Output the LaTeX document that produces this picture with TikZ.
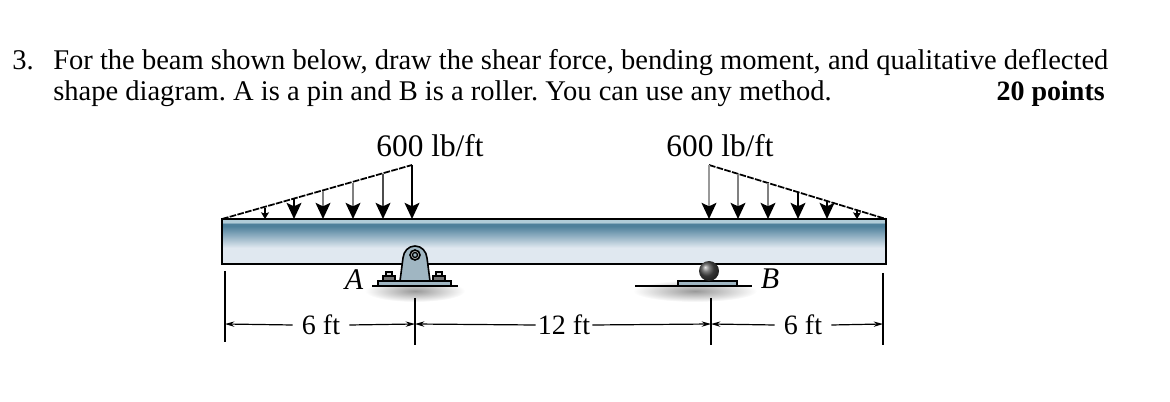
\documentclass[tikz,border=0pt]{standalone}
\usepackage{fontspec}
\setmainfont{Liberation Serif}
\usetikzlibrary{calc,arrows.meta}
\definecolor{beamlight}{RGB}{224,232,240}
\definecolor{beamdark}{RGB}{78,128,155}
\definecolor{beamstrip}{RGB}{176,204,216}
\definecolor{platefill}{RGB}{160,182,194}
\pgfdeclareverticalshading{beamshade}{100bp}{
	color(0bp)=(beamlight); color(25bp)=(beamlight); color(43bp)=(beamlight);
	color(67bp)=(beamdark); color(70bp)=(beamdark); color(71bp)=(beamstrip);
	color(75bp)=(beamstrip); color(100bp)=(beamstrip)}
\tikzset{
	para/.style={font=\fontsize{21.4}{25}\selectfont\frenchspacing, anchor=base west, inner sep=0pt},
	loadlabel/.style={font=\fontsize{23.5}{28}\selectfont, inner sep=0pt},
	dimlabel/.style={font=\fontsize{21}{25}\selectfont, inner sep=0pt},
	supportlabel/.style={font=\fontsize{22.5}{26}\selectfont\itshape, inner sep=0pt},
	loadarrow/.style={line width=2pt, color=black!#1, -{Stealth[length=12pt,width=11pt,inset=2.5pt,color=black]}},
	smallarrow/.style={line width=1.5pt, -{Stealth[length=5pt,width=6pt,inset=1pt]}},
	ramp/.style={line width=1.3pt, dash pattern=on 5pt off 1pt},
	dimarrow/.style={line width=0.9pt, -{Stealth[length=7pt,width=4pt]}},
	tick/.style={line width=1.5pt},
	ground/.style={line width=1.5pt},
	plate/.style={line width=1.4pt, fill=platefill},
	bolt/.style={line width=1.2pt, fill=black!55}
}
\begin{document}
\begin{tikzpicture}[x=0.75pt, y=-0.75pt]
		%%%%% START %%%%%
		\useasboundingbox (0, 0) rectangle (1170, 402);
		
		\node[para] (num) at (12, 70) {3.};
		\node[para] (lineone) at (53, 70) {For the beam shown below, draw the shear force, bending moment, and qualitative deflected};
		\node[para] (linetwo) at (53, 101) {shape diagram. A is a pin and B is a roller. You can use any method.};
		\node[para, anchor=base east, font=\fontsize{21}{25}\selectfont\bfseries] (points) at (1105, 101) {20 points};
		
		\node[loadlabel] (loadA) at (430, 146) {600 lb/ft};
		\node[loadlabel] (loadB) at (720, 146) {600 lb/ft};
		
		% shadows under the supports
		\shade[inner color=black!40, outer color=white] (415, 291) ellipse (50 and 11);
		\shade[inner color=black!40, outer color=white] (695, 291) ellipse (62 and 11);
		
		% beam
		\shade[shading=beamshade] (222, 219) rectangle (886, 264);
		\draw[line width=1.8pt] (222, 219) rectangle (886, 264);
		
		% left load
		\draw[ramp] (222, 219) -- (412, 165);
		\draw[smallarrow] (265, 208) -- (265, 219);
		\draw[loadarrow=100] (294, 199) -- (294, 219);
		\draw[loadarrow=50] (323, 191) -- (323, 219);
		\draw[loadarrow=50] (353, 183) -- (353, 219);
		\draw[loadarrow=70] (383, 174) -- (383, 219);
		\draw[loadarrow=100] (412, 165) -- (412, 219);
		
		% right load
		\draw[ramp] (709, 165) -- (886, 219);
		\draw[loadarrow=40] (709, 165) -- (709, 219);
		\draw[loadarrow=50] (738, 174) -- (738, 219);
		\draw[loadarrow=50] (768, 183) -- (768, 219);
		\draw[loadarrow=100] (798, 192) -- (798, 219);
		\draw[loadarrow=100] (827, 201) -- (827, 219);
		\draw[smallarrow] (857, 210) -- (857, 219);
		
		% support A
		\draw[ground] (372, 286) -- (458, 286);
		\draw[plate] (378, 286) rectangle (451, 281);
		\draw[line width=1.2pt, fill=platefill] (400, 281) -- (403, 258) to[out=85, in=180] (415, 246) to[out=0, in=95] (427, 258) -- (430, 281) -- cycle;
		\draw[line width=1.2pt, fill=black!25] (415, 255) circle (5);
		\draw[line width=1pt, fill=platefill] (415, 255) circle (2.5);
		\draw[bolt] (383, 281) rectangle (395, 276);
		\draw[bolt] (433, 281) rectangle (445, 276);
		\draw[line width=1pt, fill=black!15] (386, 276) rectangle (392, 272);
		\draw[line width=1pt, fill=black!15] (436, 276) rectangle (442, 272);
		\node[supportlabel] (labelA) at (354, 280) {A};
		
		% support B
		\draw[ground] (635, 286) -- (752, 286);
		\draw[plate] (678, 286) rectangle (737, 281);
		\shade[ball color=black!70] (709, 271) circle (10);
		\node[supportlabel] (labelB) at (770, 279) {B};
		
		% dimensions
		\coordinate (tickA) at (225, 324);
		\coordinate (tickB) at (415, 324);
		\coordinate (tickC) at (711, 324);
		\coordinate (tickD) at (883, 324);
		\draw[tick] (225, 271) -- (225, 342);
		\draw[tick] (415, 298) -- (415, 345);
		\draw[tick] (711, 298) -- (711, 345);
		\draw[tick] (883, 273) -- (883, 345);
		
		\node[dimlabel] (dimA) at (321, 325) {6 ft};
		\node[dimlabel] (dimB) at (564, 325) {12 ft};
		\node[dimlabel] (dimC) at (803, 325) {6 ft};
		\draw[dimarrow] ($(dimA.west)+(-9, 0)$) -- (tickA);
		\draw[dimarrow] ($(dimA.east)+(9, 0)$) -- (tickB);
		\draw[dimarrow] ($(dimB.west)+(-2, 0)$) -- (tickB);
		\draw[dimarrow] ($(dimB.east)+(2, 0)$) -- (tickC);
		\draw[dimarrow] ($(dimC.west)+(-9, 0)$) -- (tickC);
		\draw[dimarrow] ($(dimC.east)+(9, 0)$) -- (tickD);
		
		%%%%% END %%%%%
\end{tikzpicture}
\end{document}
